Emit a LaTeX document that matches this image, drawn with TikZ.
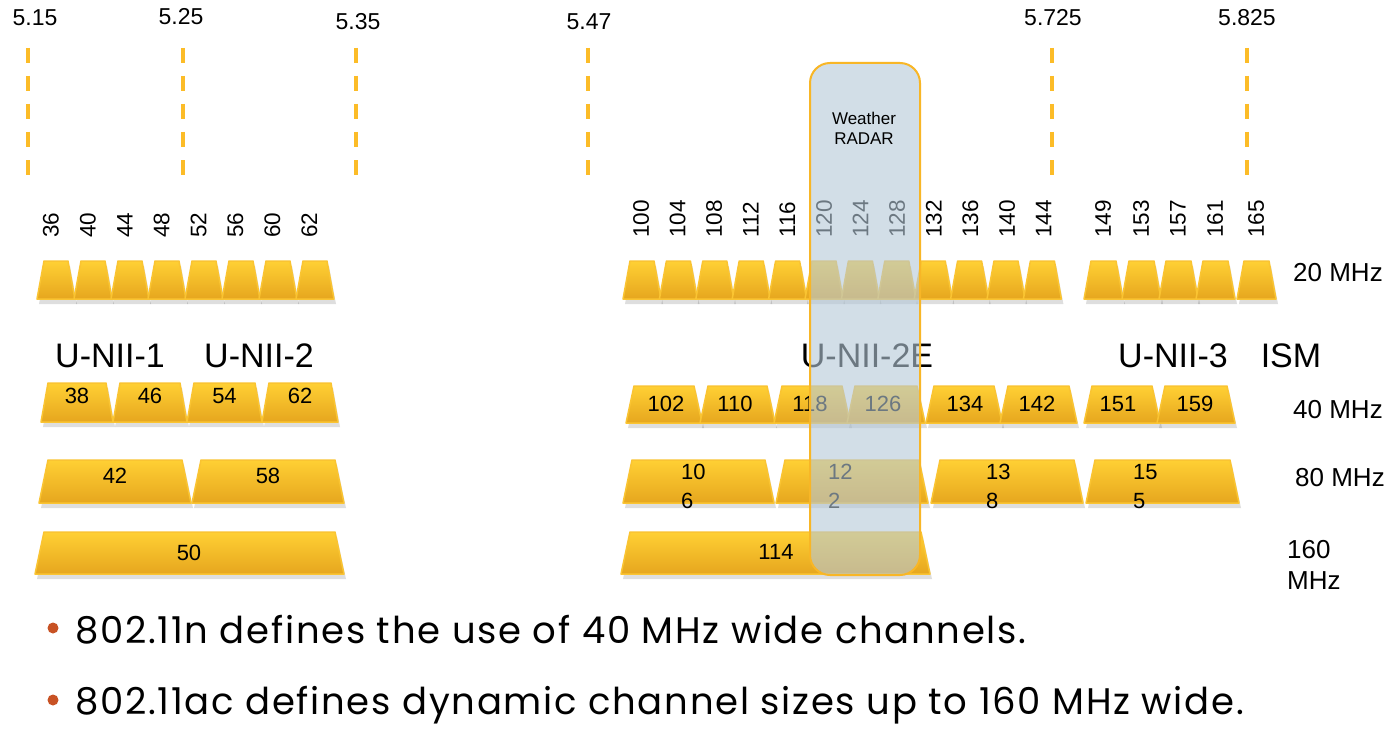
\documentclass[tikz,border=0pt]{standalone}
\usepackage{fontspec}
\setmainfont{Liberation Sans}
\newfontfamily\bulletfont[LetterSpace=4.6]{Poppins}
\definecolor{dashc}{RGB}{252,188,40}
\definecolor{chtop}{RGB}{255,208,52}
\definecolor{chbot}{RGB}{230,166,30}
\definecolor{chedge}{RGB}{250,196,50}
\definecolor{radarfill}{RGB}{180,200,216}
\definecolor{radaredge}{RGB}{248,182,38}
\definecolor{bulletc}{RGB}{200,82,36}
\tikzset{
  chan/.style={top color=chtop, bottom color=chbot, draw=chedge, line width=1.5pt, line join=round},
  chshadow/.style={fill=black, opacity=0.13},
  freqlbl/.style={font=\fontsize{23}{25}\selectfont, inner sep=0pt},
  chnum/.style={font=\fontsize{22.5}{24}\selectfont, rotate=90, anchor=west, inner sep=0pt},
  trlbl/.style={font=\fontsize{22}{24}\selectfont, inner sep=0pt},
  trlbltwo/.style={font=\fontsize{22}{29}\selectfont, inner sep=0pt, align=left, anchor=north west},
  band/.style={font=\fontsize{34}{36}\selectfont, inner sep=0pt},
  mhz/.style={font=\fontsize{26}{31}\selectfont, inner sep=0pt, anchor=west, align=left},
  bandline/.style={draw=dashc, line width=4pt, dash pattern=on 15pt off 13pt},
  radar/.style={fill=radarfill, fill opacity=0.6, draw=radaredge, line width=2pt, rounded corners=20pt},
  bul/.style={font=\bulletfont\fontsize{37}{40}\selectfont, inner sep=0pt, anchor=base west},
}
% xl xr ytop ybot inset
\newcommand\trp[5]{%
  \fill[chshadow] (#1+2,#4+5) -- (#2+2,#4+5) -- (#2-#5+2,#3+5) -- (#1+#5+2,#3+5) -- cycle;
  \path[chan] (#1,#4) -- (#2,#4) -- (#2-#5,#3) -- (#1+#5,#3) -- cycle;}
\begin{document}
\begin{tikzpicture}[x=1pt,y=-1pt]
\useasboundingbox (0,0) rectangle (1400,741);
\fill[white] (0,0) rectangle (1400,741);

% frequency markers
\foreach \x/\t/\lx/\ly [count=\i] in {28/5.15/35/18, 183/5.25/181/17, 356/5.35/358/22, 588/5.47/589/22, 1052/5.725/1053/18, 1247/5.825/1247/18}{
  \node[freqlbl] (f\i) at (\lx,\ly) {\t};
  \coordinate (ft\i) at (\x,48);
  \coordinate (fb\i) at (\x,175);
  \draw[bandline] (ft\i) -- (fb\i);
}

% 20 MHz channels, lower band
\foreach \n [count=\i from 0] in {36,40,44,48,52,56,60,62}{
  \pgfmathsetmacro\xl{37+37*\i}
  \pgfmathsetmacro\xr{\xl+38}
  \trp{\xl}{\xr}{261}{299}{7}
  \node[chnum] (c\n) at (51+36.9*\i,238) {\n};
}
% 20 MHz channels, U-NII-2E
\foreach \n [count=\i from 0] in {100,104,108,112,116,120,124,128,132,136,140,144}{
  \pgfmathsetmacro\xl{623+36.4*\i}
  \pgfmathsetmacro\xr{\xl+38}
  \trp{\xl}{\xr}{261}{299}{7}
  \node[chnum] (c\n) at (641+36.6*\i,238) {\n};
}
% 20 MHz channels, U-NII-3
\foreach \n/\xl in {149/1084,153/1122,157/1159,161/1196,165/1237}{
  \pgfmathsetmacro\xr{\xl+39}
  \trp{\xl}{\xr}{261}{299}{7}
  \node[chnum] (c\n) at (\xl+19,238) {\n};
}

% 40 MHz channels
\foreach \n/\xl/\xr in {38/41/113,46/113/187,54/187/262,62/262/338}{
  \trp{\xl}{\xr}{383}{422}{7}
  \node[trlbl] (d\n) at ({(\xl+\xr)/2},396) {\n};
}
\foreach \n/\xl/\xr/\lx in {102/626/702/666,110/700/775/735,118/774/850/810,126/847/925/883,134/926/1002/965,142/1000/1077/1037,151/1084/1160/1118,159/1157/1235/1195}{
  \trp{\xl}{\xr}{386}{423}{8}
  \node[trlbl] (d\n) at (\lx,404) {\n};
}

% 80 MHz channels
\foreach \n/\xl/\xr in {42/39/191,58/192/344}{
  \trp{\xl}{\xr}{460}{503}{9}
  \node[trlbl] (e\n) at ({(\xl+\xr)/2},476) {\n};
}
\foreach \a/\b/\xl/\xr/\lx in {10/6/623/774/681,12/2/776/928/828,13/8/931/1083/986,15/5/1086/1239/1133}{
  \trp{\xl}{\xr}{460}{503}{9}
  \node[trlbltwo] (e\a\b) at (\lx,464) {\a\\\b};
}

% 160 MHz channels
\trp{35}{344}{532}{574}{9}
\node[trlbl] (g50) at (189,553) {50};
\trp{621}{930}{532}{574}{9}
\node[trlbl] (g114) at (776,552) {114};

% band names
\node[band] (b1) at (110,356) {U-NII-1};
\node[band] (b2) at (259,356) {U-NII-2};
\node[band] (b2e) at (867,356) {U-NII-2E};
\node[band] (b3) at (1173,356) {U-NII-3};
\node[band] (bism) at (1291,356) {ISM};

% width labels
\node[mhz] (w20) at (1293,273) {20 MHz};
\node[mhz] (w40) at (1293,410) {40 MHz};
\node[mhz] (w80) at (1295,478) {80 MHz};
\node[mhz] (w160) at (1287,565) {160\\MHz};

% weather radar overlay
\path[radar] (810,63) rectangle (920,575);
\node[font=\fontsize{17}{20}\selectfont, align=center, inner sep=0pt] (radar) at (864,128) {Weather\\RADAR};

% bullets
\fill[bulletc] (53,628) circle (5.5);
\node[bul] (t1) at (75,643) {802.11n defines the use of 40 MHz wide channels.};
\fill[bulletc] (53,700) circle (5.5);
\node[bul] (t2) at (75,714) {802.11ac defines dynamic channel sizes up to 160 MHz wide.};
\end{tikzpicture}
\end{document}
